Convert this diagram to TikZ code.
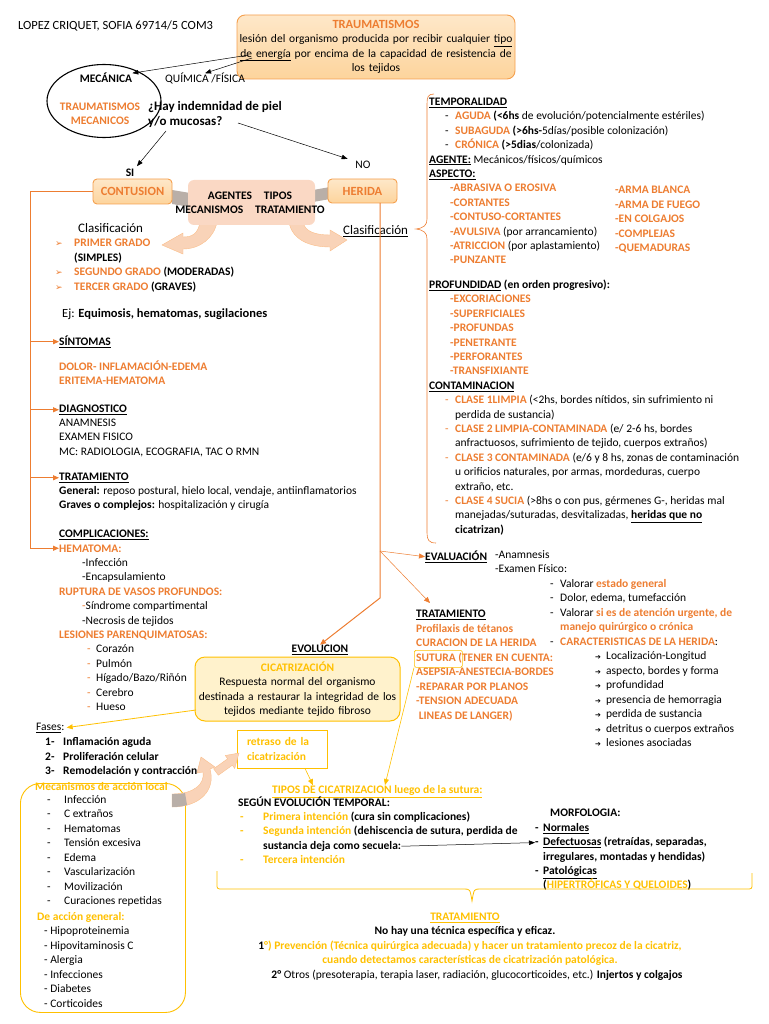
\documentclass[tikz,border=0pt]{standalone}
\usepackage{fontspec}
\setmainfont{Carlito}
\newfontfamily\simb{DejaVu Sans}
\usetikzlibrary{positioning, shapes.geometric, arrows.meta}
\definecolor{naranja}{HTML}{ED7D31}
\definecolor{oro}{HTML}{FFC000}
\definecolor{cajanar}{HTML}{FDD49C}
\definecolor{bordenar}{HTML}{F5A04E}
\definecolor{melocoton}{HTML}{FAD8C4}
\definecolor{flechamel}{HTML}{F9D3B8}
\definecolor{cajaoro}{HTML}{FFF2CC}
\definecolor{grisbarra}{HTML}{B9AFA8}
\newcommand{\tsz}{\fontsize{11.5}{14.4}\selectfont}
\newcommand{\nar}[1]{\textcolor{naranja}{#1}}
\newcommand{\oro}[1]{\textcolor{oro}{#1}}
\newcommand{\gd}[2][black]{\makebox[#2][l]{\textcolor{#1}{-}}}
\tikzset{
  txt/.style={anchor=base west, inner sep=0pt, align=left, font=\tsz},
  caja/.style={draw=bordenar, top color=cajanar!55!white, bottom color=cajanar, rounded corners=8pt, line width=0.9pt, inner sep=2pt, font=\tsz},
  cajaoro/.style={draw=oro, fill=cajaoro, rounded corners=10pt, line width=1pt, inner sep=2pt, font=\tsz},
  lin/.style={draw=naranja, line width=1pt},
  flechan/.style={lin, -{Triangle[length=6pt,width=5pt]}},
  flecha/.style={black, line width=0.5pt, -{Triangle[length=6pt,width=4.5pt]}},
  lino/.style={draw=oro, line width=0.8pt},
  flechao/.style={lino, -{Triangle[length=6pt,width=5pt]}},
  bloque/.style={fill=flechamel, draw=flechamel!75!orange, line width=0.4pt}
}

\begin{document}
\begin{tikzpicture}[x=1pt,y=-1pt]
\useasboundingbox (0,0) rectangle (768,1024);

% cabecera (multi-line nodes sit on the baseline of their last line)
\node[txt, font=\fontsize{12.5}{14}\selectfont] (autor) at (18,29.5) {LOPEZ CRIQUET, SOFIA 69714/5 COM3};
\node[caja, minimum width=278pt, minimum height=64pt, text width=274pt, align=center] (traum) at (376,47)
  {\textbf{\nar{\fontsize{12.5}{14.4}\selectfont TRAUMATISMOS}}\\ lesión del organismo producida por recibir cualquier \underline{tipo}\\ \underline{de energía} por encima de la capacidad de resistencia de\\ los tejidos};

\node[draw, ellipse, line width=1.1pt, minimum width=114pt, minimum height=73pt] (elipse) at (104,101) {};
\node[txt, anchor=base, font=\tsz\bfseries] (meca) at (106,83) {MECÁNICA};
\node[txt] (quim) at (165,83) {QUÍMICA /FÍSICA};
\node[txt, anchor=base, align=center, font=\tsz\bfseries, text=naranja] (trmec) at (100,125) {TRAUMATISMOS\\MECANICOS};
\node[txt, font=\fontsize{13}{15}\selectfont\bfseries] (hay) at (148,126) {¿Hay indemnidad de piel\\y/o mucosas?};

\coordinate (oA) at (249,55);
\coordinate (oB) at (252,58);
\draw[flecha] (oA) -- (meca.north east);
\draw[flecha] (oB) -- (quim.north);

\node[txt, anchor=base] (si) at (130,177) {\textbf{SI}};
\node[txt, anchor=base] (no) at (363,169) {NO};
\coordinate (hayS) at (166,131);
\coordinate (hayN) at (238,123);
\draw[flecha, shorten >=4pt] (hayS) -- (si.north east);
\draw[flecha, shorten >=8pt] (hayN) -- (no.north west);

% cajas centrales
\fill[grisbarra] (172,190) -- (190,193) -- (190,207) -- (172,204) -- cycle;
\fill[grisbarra] (313,190) -- (330,187) -- (330,199) -- (313,202) -- cycle;
\filldraw[bloque] (200,222) .. controls (198,234) and (192,237) .. (183,237) -- (183,233) -- (162,245) -- (183,254) -- (183,249) .. controls (200,249) and (214,238) .. (217,222) -- cycle;
\filldraw[bloque] (289,222) .. controls (292,240) and (310,247) .. (330,247) -- (330,251) -- (347,240) -- (330,230) -- (330,235) .. controls (316,235) and (305,232) .. (303,222) -- cycle;
\fill[melocoton, rounded corners=6pt] (188,180) rectangle (315,225);
\node[caja, rounded corners=4pt, minimum width=79pt, minimum height=25pt, font=\fontsize{12.5}{14}\selectfont\bfseries, text=naranja] (contusion) at (132.5,191.5) {CONTUSION};
\node[caja, rounded corners=4pt, minimum width=69pt, minimum height=24pt, font=\fontsize{12.5}{14}\selectfont\bfseries, text=naranja] (herida) at (362.5,191) {HERIDA};
\node[align=center, font=\tsz\bfseries, inner sep=0pt] (agentes) at (250,203) {AGENTES\hspace{12pt}TIPOS\\MECANISMOS\hspace{12pt}TRATAMIENTO};

% contusion
\node[txt, font=\fontsize{13}{14}\selectfont] (clasL) at (78,232.5) {Clasificación};
\node[txt, font=\fontsize{11.5}{14.6}\selectfont\bfseries, text=naranja] (grados) at (55,290.3) {%
  \makebox[19pt][l]{\simb\small ➢}PRIMER GRADO\\
  \hspace*{19pt}\textcolor{black}{(SIMPLES)}\\
  \makebox[19pt][l]{\simb\small ➢}SEGUNDO GRADO \textcolor{black}{(MODERADAS)}\\
  \makebox[19pt][l]{\simb\small ➢}TERCER GRADO \textcolor{black}{(GRAVES)}};
\node[txt, font=\fontsize{12.5}{14}\selectfont] (ej) at (62,317) {Ej: \textbf{Equimosis, hematomas, sugilaciones}};

\node[txt] (sint) at (59,345.5) {\textbf{\underline{SÍNTOMAS}}};
\node[txt, font=\tsz\bfseries, text=naranja] (dolor) at (59,384.5) {DOLOR- INFLAMACIÓN-EDEMA\\ERITEMA-HEMATOMA};
\node[txt] (diag) at (59,412.5) {\textbf{\underline{DIAGNOSTICO}}};
\node[txt] (diagL) at (59,455.3) {ANAMNESIS\\EXAMEN FISICO\\MC: RADIOLOGIA, ECOGRAFIA, TAC O RMN};
\node[txt] (trat) at (59,480.5) {\textbf{\underline{TRATAMIENTO}}};
\node[txt] (tratL) at (59,508.9) {\textbf{General:} reposo postural, hielo local, vendaje, antiinflamatorios\\\textbf{Graves o complejos:} hospitalización y cirugía};
\node[txt] (compl) at (59,537.5) {\textbf{\underline{COMPLICACIONES:}}};
\node[txt, font=\tsz\bfseries, text=naranja] (hemat) at (59,552) {HEMATOMA:};
\node[txt] (complL) at (59,710.5) {%
  \hspace*{23pt}-Infección\\
  \hspace*{23pt}-Encapsulamiento\\
  \textbf{\nar{RUPTURA DE VASOS PROFUNDOS:}}\\
  \hspace*{23pt}\nar{-}Síndrome compartimental\\
  \hspace*{23pt}-Necrosis de tejidos\\
  \textbf{\nar{LESIONES PARENQUIMATOSAS:}}\\
  \hspace*{28pt}\gd[naranja]{9pt}Corazón\\
  \hspace*{28pt}\gd[naranja]{9pt}Pulmón\\
  \hspace*{28pt}\gd[naranja]{9pt}Hígado/Bazo/Riñón\\
  \hspace*{28pt}\gd[naranja]{9pt}Cerebro\\
  \hspace*{28pt}\gd[naranja]{9pt}Hueso};

\coordinate (ca) at (30,191.5);
\draw[flechan] (contusion.west) -- (ca) -- (hemat.west -| ca) -- (hemat.west);
\draw[flechan] (sint.west -| ca) -- (sint.west);
\draw[flechan] (diag.west -| ca) -- (diag.west);
\draw[flechan] (trat.west -| ca) -- (trat.west);

% herida
\node[txt, font=\fontsize{13}{14}\selectfont] (clasR) at (343,234.5) {\underline{Clasificación}};
\draw[naranja, line width=0.6pt] (434,94) .. controls (428,94) and (427,97) .. (427,104) -- (427,219) .. controls (427,225) and (424,228) .. (416,229) .. controls (424,230) and (427,233) .. (427,239) -- (427,533) .. controls (427,540) and (429,543) .. (436,543);

\node[txt] (temp) at (429,263.9) {%
  \textbf{\underline{TEMPORALIDAD}}\\
  \hspace*{16pt}\gd{10pt}\textbf{\nar{AGUDA} (<6hs} de evolución/potencialmente estériles)\\
  \hspace*{16pt}\gd{10pt}\textbf{\nar{SUBAGUDA} (>6hs-}5días/posible colonización)\\
  \hspace*{16pt}\gd{10pt}\textbf{\nar{CRÓNICA} (>5dias}/colonizada)\\
  \textbf{\underline{AGENTE:}} Mecánicos/físicos/químicos\\
  \textbf{\underline{ASPECTO:}}\\
  \hspace*{21pt}\textbf{\nar{-ABRASIVA O EROSIVA}}\\
  \hspace*{21pt}\textbf{\nar{-CORTANTES}}\\
  \hspace*{21pt}\textbf{\nar{-CONTUSO-CORTANTES}}\\
  \hspace*{21pt}\textbf{\nar{-AVULSIVA}} (por arrancamiento)\\
  \hspace*{21pt}\textbf{\nar{-ATRICCION}} (por aplastamiento)\\
  \hspace*{21pt}\textbf{\nar{-PUNZANTE}}};
\node[txt, font=\fontsize{11.5}{14.5}\selectfont\bfseries, text=naranja] (aspecto) at (615,251.5) {-ARMA BLANCA\\-ARMA DE FUEGO\\-EN COLGAJOS\\-COMPLEJAS\\-QUEMADURAS};

\node[txt] (prof) at (429,533.3) {%
  \textbf{\underline{PROFUNDIDAD} (en orden progresivo):}\\
  \hspace*{21pt}\textbf{\nar{-EXCORIACIONES}}\\
  \hspace*{21pt}\textbf{\nar{-SUPERFICIALES}}\\
  \hspace*{21pt}\textbf{\nar{-PROFUNDAS}}\\
  \hspace*{21pt}\textbf{\nar{-PENETRANTE}}\\
  \hspace*{21pt}\textbf{\nar{-PERFORANTES}}\\
  \hspace*{21pt}\textbf{\nar{-TRANSFIXIANTE}}\\
  \textbf{\underline{CONTAMINACION}}\\
  \hspace*{16pt}\gd[naranja]{10pt}\textbf{\nar{CLASE 1LIMPIA}} (<2hs, bordes nítidos, sin sufrimiento ni\\
  \hspace*{26pt}perdida de sustancia)\\
  \hspace*{16pt}\gd[naranja]{10pt}\textbf{\nar{CLASE 2 LIMPIA-CONTAMINADA}} (e/ 2-6 hs, bordes\\
  \hspace*{26pt}anfractuosos, sufrimiento de tejido, cuerpos extraños)\\
  \hspace*{16pt}\gd[naranja]{10pt}\textbf{\nar{CLASE 3 CONTAMINADA}} (e/6 y 8 hs, zonas de contaminación\\
  \hspace*{26pt}u orificios naturales, por armas, mordeduras, cuerpo\\
  \hspace*{26pt}extraño, etc.\\
  \hspace*{16pt}\gd[naranja]{10pt}\textbf{\nar{CLASE 4 SUCIA}} (>8hs o con pus, gérmenes G-, heridas mal\\
  \hspace*{26pt}manejadas/suturadas, desvitalizadas, \textbf{\underline{heridas que no}}\\
  \hspace*{26pt}\textbf{cicatrizan)}};

\node[txt] (eval) at (425,560.5) {\textbf{\underline{EVALUACIÓN}}};
\node[txt] (evalL) at (495,572.9) {-Anamnesis\\-Examen Físico:};
\node[txt] (valorar) at (550,645.1) {%
  \gd{10pt}Valorar \textbf{\nar{estado general}}\\
  \gd{10pt}Dolor, edema, tumefacción\\
  \gd{10pt}Valorar \textbf{\nar{si es de atención urgente, de}}\\
  \hspace*{10pt}\textbf{\nar{manejo quirúrgico o crónica}}\\
  \gd{10pt}\textbf{\nar{CARACTERISTICAS DE LA HERIDA}}:};
\node[txt, font=\fontsize{11.5}{14.5}\selectfont] (caract) at (595,746.5) {%
  \makebox[11pt][l]{\simb\scriptsize ➔}Localización-Longitud\\
  \makebox[11pt][l]{\simb\scriptsize ➔}aspecto, bordes y forma\\
  \makebox[11pt][l]{\simb\scriptsize ➔}profundidad\\
  \makebox[11pt][l]{\simb\scriptsize ➔}presencia de hemorragia\\
  \makebox[11pt][l]{\simb\scriptsize ➔}perdida de sustancia\\
  \makebox[11pt][l]{\simb\scriptsize ➔}detritus o cuerpos extraños\\
  \makebox[11pt][l]{\simb\scriptsize ➔}lesiones asociadas};

\node[txt, font=\fontsize{11.5}{14.5}\selectfont\bfseries, text=naranja] (tratD) at (416,719) {%
  \textcolor{black}{\underline{TRATAMIENTO}}\\
  Profilaxis de tétanos\\
  CURACION DE LA HERIDA\\
  SUTURA (TENER EN CUENTA:\\
  ASEPSIA-ANESTECIA-BORDES\\
  -REPARAR POR PLANOS\\
  -TENSION ADECUADA\\
  \ LINEAS DE LANGER)};
\node[draw=oro, line width=0.6pt, rounded corners=1.5pt, minimum width=48pt, minimum height=17pt, anchor=north west, inner sep=0pt] (sutbox) at (414,650) {};

\coordinate (hb) at (380,203);
\coordinate (hm) at (380,551);
\coordinate (hd) at (380,598);
\coordinate (tdT) at (430,603);
\node[txt, anchor=base] (evol) at (320,652.5) {\textbf{\underline{EVOLUCION}}};
\draw[flechan] (hb) -- (hd) -- (evol.north);
\draw[flechan, line width=0.5pt] (hm) -- (eval.west);
\draw[flechan, line width=0.5pt] (hm) -- (tdT);

% cicatrizacion
\node[cajaoro, minimum width=205pt, minimum height=64pt, text width=201pt, align=center] (cicat) at (297.5,689)
  {\textbf{\oro{CICATRIZACIÓN}}\\Respuesta normal del organismo\\destinada a restaurar la integridad de los\\tejidos mediante tejido fibroso};

\node[txt] (fases) at (36,730.5) {\underline{Fases}:};
\node[txt, font=\fontsize{11.5}{14.5}\selectfont\bfseries] (fasesL) at (45,774.5) {%
  \makebox[18pt][l]{1-}Inflamación aguda\\
  \makebox[18pt][l]{2-}Proliferación celular\\
  \makebox[18pt][l]{3-}Remodelación y contracción};
\coordinate (cw) at (196,710);
\draw[flechao, shorten >=2pt] (cw) -- (fases.east);

\node[draw=oro, line width=0.8pt, minimum width=90pt, minimum height=38pt, text width=70pt, align=left, font=\tsz\bfseries, text=oro, inner sep=0pt] (retraso) at (282,749) {retraso de la\\cicatrización};

% mecanismos
\node[draw=oro, line width=0.9pt, rounded corners=20pt, minimum width=165pt, minimum height=229pt, anchor=north west] (mecbox) at (20,783) {};
\node[txt, font=\tsz\bfseries, text=oro] (mecT) at (35,790) {Mecanismos de acción local};
\node[txt, font=\fontsize{11.5}{14.43}\selectfont] (mecL) at (47,904.5) {%
  \gd{17pt}Infección\\
  \gd{17pt}C extraños\\
  \gd{17pt}Hematomas\\
  \gd{17pt}Tensión excesiva\\
  \gd{17pt}Edema\\
  \gd{17pt}Vascularización\\
  \gd{17pt}Movilización\\
  \gd{17pt}Curaciones repetidas};
\node[txt, font=\tsz\bfseries, text=oro] (genT) at (37,920.5) {De acción general:};
\node[txt, font=\fontsize{11.5}{14.6}\selectfont] (genL) at (44,1007.5) {%
  - Hipoproteinemia\\
  - Hipovitaminosis C\\
  - Alergia\\
  - Infecciones\\
  - Diabetes\\
  - Corticoides};

\filldraw[bloque] (172,794) .. controls (194,794) and (205,784) .. (203,772) -- (197,773) -- (201,757) -- (215,767) -- (210,769) .. controls (216,790) and (200,807) .. (172,807) -- cycle;
\fill[grisbarra] (172,794) .. controls (178,794) and (182,794) .. (185,793) -- (187,805) .. controls (182,806.5) and (177,807) .. (172,807) -- cycle;
\filldraw[bloque] (213.6,768.8) -- (227.6,758.8) -- (225.3,755.5) -- (239,753) -- (234.7,768.5) -- (232.4,765.2) -- (218.4,775.2) -- cycle;

% tipos de cicatrizacion
\node[txt, font=\tsz\bfseries, text=oro] (tipos) at (272,793.5) {\underline{TIPOS DE CICATRIZACION luego de la sutura:}};
\node[txt, font=\tsz\bfseries] (segun) at (238,806.5) {SEGÚN EVOLUCIÓN TEMPORAL:};
\node[txt, font=\tsz\bfseries] (prim) at (240,820.5) {\gd[oro]{23pt}\oro{Primera intención} (cura sin complicaciones)};
\node[txt, font=\tsz\bfseries] (seg) at (240,834.9) {\gd[oro]{23pt}\oro{Segunda intención} (dehiscencia de sutura, perdida de};
\node[txt, font=\tsz\bfseries] (secuela) at (263,849.3) {sustancia deja como secuela:};
\node[txt, font=\tsz\bfseries] (terc) at (240,863.7) {\gd[oro]{23pt}\oro{Tercera intención}};

\coordinate (tipT) at (385,785);
\draw[flechao, line width=0.6pt] (sutbox.south west) -- (tipT);
\draw[flechao, line width=0.6pt] ([xshift=23pt]retraso.south) -- ([xshift=41pt]tipos.north west);

\node[txt, font=\tsz\bfseries] (morf) at (550,816.5) {MORFOLOGIA:};
\node[txt, font=\tsz\bfseries] (normales) at (535,831.5) {\makebox[8pt][l]{-}\underline{Normales}};
\node[txt, font=\tsz\bfseries] (defect) at (535,845.8) {\makebox[8pt][l]{-}\underline{Defectuosas} (retraídas, separadas,};
\node[txt, font=\tsz\bfseries] (defect2) at (543,860.1) {irregulares, montadas y hendidas)};
\node[txt, font=\tsz\bfseries] (patol) at (535,874.4) {\makebox[8pt][l]{-}\underline{Patológicas}};
\node[txt, font=\tsz\bfseries] (hiper) at (543,888.7) {(\oro{HIPERTRÓFICAS Y QUELOIDES})};
\draw[flecha] (secuela.east) -- (defect.west);

\draw[lino] (217,871) -- (217,884) .. controls (217,889) .. (223,889) -- (464,889) .. controls (470,889) .. (472,901) .. controls (474,889) .. (480,889) -- (746,889) .. controls (752,889) .. (752,884) -- (752,873);

% tratamiento final
\node[txt, anchor=base, font=\tsz\bfseries, text=oro] (tratF) at (465,920.5) {\underline{TRATAMIENTO}};
\node[txt, anchor=base, font=\tsz\bfseries] (nohay) at (465,934.5) {No hay una técnica específica y eficaz.};
\node[txt, anchor=base, font=\tsz\bfseries] (prev) at (470,949.5) {1\oro{°) Prevención (Técnica quirúrgica adecuada) y hacer un tratamiento precoz de la cicatriz,}};
\node[txt, anchor=base, font=\tsz\bfseries, text=oro] (cuando) at (470,963.5) {cuando detectamos características de cicatrización patológica.};
\node[txt, anchor=base] (otros) at (477,978.5) {\textbf{2°} Otros (presoterapia, terapia laser, radiación, glucocorticoides, etc.) \textbf{Injertos y colgajos}};
\end{tikzpicture}
\end{document}
